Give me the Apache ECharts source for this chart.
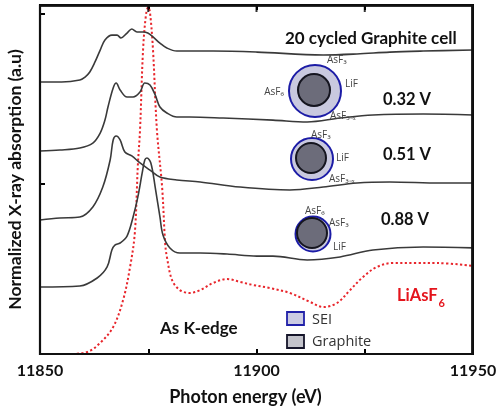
<!DOCTYPE html>
<html>
<head>
<meta charset="utf-8">
<script src="https://cdn.jsdelivr.net/npm/echarts@6/dist/echarts.min.js"></script>
<style>html,body{margin:0;padding:0;background:#fff}#c{width:500px;height:408px}</style>
</head>
<body>
<div id="c"></div>
<script>
// Photon energy (eV) / normalized absorption (a.u., offset stacked)
const curveTop = [[11850,1.600],[11855,1.600],[11859.2,1.612],[11860.4,1.629],[11861.5,1.659],[11862.7,1.718],[11863.9,1.788],[11865.0,1.847],[11866.6,1.876],[11867.8,1.876],[11868.7,1.859],[11870.1,1.888],[11871.2,1.912],[11872.4,1.894],[11873.8,1.894],[11874.9,1.888],[11876.1,1.865],[11877.7,1.829],[11879.3,1.800],[11881.6,1.782],[11885.3,1.782],[11890,1.782],[11900.1,1.776],[11915.4,1.759],[11923.2,1.765],[11930.8,1.776],[11938.5,1.782],[11950,1.788]];
const curve032 = [[11850,1.194],[11854.6,1.200],[11859.2,1.212],[11862.2,1.241],[11863.9,1.300],[11865.0,1.376],[11865.7,1.453],[11866.9,1.565],[11867.6,1.594],[11868.5,1.553],[11870.1,1.512],[11871.5,1.512],[11873.1,1.541],[11874.2,1.594],[11875.4,1.582],[11876.6,1.524],[11877.7,1.453],[11879.3,1.418],[11881.6,1.394],[11884.6,1.394],[11892.3,1.388],[11903.8,1.376],[11911.7,1.365],[11919.3,1.388],[11926.9,1.406],[11938.5,1.412],[11950,1.406]];
const curve051 = [[11850,0.788],[11854.6,0.800],[11859.2,0.806],[11862.2,0.865],[11864.5,0.982],[11866.2,1.141],[11866.9,1.259],[11867.6,1.282],[11868.5,1.259],[11869.6,1.188],[11871.2,1.165],[11873.1,1.124],[11875.4,1.082],[11877.7,1.041],[11881.6,1.024],[11887.0,1.012],[11896.2,0.982],[11907.7,0.965],[11915.4,0.982],[11923.2,1.006],[11930.8,1.012],[11942.4,1.006],[11950,1.006]];
const curve088 = [[11850,0.394],[11859.2,0.400],[11863.2,0.447],[11865.5,0.512],[11866.6,0.612],[11867.3,0.641],[11868.5,0.653],[11870.1,0.694],[11871.5,0.806],[11872.6,0.924],[11873.6,1.065],[11874.2,1.141],[11874.7,1.153],[11875.6,1.124],[11876.6,0.982],[11877.7,0.806],[11878.4,0.700],[11880.0,0.624],[11882.3,0.594],[11887.0,0.594],[11893.2,0.588],[11900.1,0.576],[11903.8,0.576],[11911.7,0.553],[11919.3,0.571],[11926.9,0.612],[11938.5,0.629],[11950,0.624]];
const curveLiAsF6 = [[11850,0.000],[11856.2,0.000],[11860.9,0.012],[11863.9,0.065],[11866.9,0.159],[11869.2,0.318],[11870.8,0.512],[11871.9,0.712],[11872.6,1.112],[11873.1,1.318],[11873.8,1.788],[11874.5,2.000],[11875.0,2.040],[11875.4,2.010],[11876.1,1.788],[11877.0,1.318],[11878.2,0.982],[11878.9,0.653],[11879.3,0.571],[11880.5,0.435],[11882.3,0.376],[11884.6,0.359],[11887.0,0.376],[11890.0,0.418],[11893.2,0.441],[11896.2,0.424],[11899.2,0.406],[11903.1,0.388],[11907.7,0.359],[11912.4,0.306],[11915.4,0.276],[11918.6,0.300],[11921.6,0.376],[11924.6,0.453],[11927.8,0.512],[11931.5,0.535],[11937.1,0.535],[11941.7,0.535],[11950,0.518]];
const xTickLabels = [11850, 11900, 11950];
const topTicks = [11875, 11900, 11925];
const voltageLabels = ['0.32 V', '0.51 V', '0.88 V'];
const X_MIN = 11850, X_MAX = 11950, Y_MIN = 0, Y_MAX = 2.053;

const chart = echarts.init(document.getElementById('c'), null, {renderer: 'canvas'});
const FONT = 'Lato';
const black = '#3a3a3a';
function lineSeries(data, color, dashed) {
  return {
    type: 'line', data: data, showSymbol: false, smooth: 0.35, clip: false,
    lineStyle: dashed ? {color: color, width: 2, type: [2.2, 2.4]} : {color: color, width: 1.6},
    emphasis: {disabled: true}, z: dashed ? 3 : 4
  };
}
function frameSeries(data) {
  return {type: 'line', data: data, showSymbol: false, clip: false, silent: true,
    lineStyle: {color: '#111', width: 2.2, type: 'solid'}, emphasis: {disabled: true}, z: 6};
}
function circle(cx, cy, ro, ri) {
  return [
    {type: 'circle', shape: {cx: cx, cy: cy, r: ro}, style: {fill: '#c9c9df', stroke: '#1c1ca6', lineWidth: 2}, z: 10},
    {type: 'circle', shape: {cx: cx - 1, cy: cy - 1, r: ri}, style: {fill: '#6c6c7a', stroke: '#15151f', lineWidth: 2}, z: 11}
  ];
}
function small(x, y, t, align) {
  return {type: 'text', x: x, y: y, z: 12, style: {text: t, fontFamily: 'Open Sans', fontSize: 10, fill: '#444', align: align || 'left', verticalAlign: 'middle'}};
}
function big(x, y, t, size, align) {
  return {type: 'text', x: x, y: y, z: 12, style: {text: t, fontFamily: FONT, fontWeight: 'bold', fontSize: size, fill: '#111', align: align || 'left', verticalAlign: 'middle'}};
}
const graphics = [].concat(
  [{type: 'rect', shape: {x: 40, y: 5.5, width: 432.5, height: 348.5}, style: {fill: null, stroke: '#111', lineWidth: 2.2}, z: 100, silent: true}],
  [big(285, 39, '20 cycled Graphite cell', 17)],
  circle(315, 91, 26, 16),
  [small(327, 60, 'AsF₃'), small(284, 92, 'AsF₆', 'right'), small(345, 84, 'LiF'), small(330, 116, 'AsF₃₋ₓ')],
  circle(312, 159, 21, 15),
  [small(311, 135, 'AsF₃'), small(336, 158, 'LiF'), small(329, 179, 'AsF₃₋ₓ')],
  circle(313, 234, 17.5, 15),
  [small(305, 211, 'AsF₆'), small(329, 223, 'AsF₃'), small(333, 247, 'LiF')],
  [big(407, 100, voltageLabels[0], 16.5, 'center'), big(407, 155, voltageLabels[1], 16.5, 'center'), big(405, 220, voltageLabels[2], 16.5, 'center')],
  [big(160, 329, 'As K-edge', 17)],
  [{type: 'text', x: 397, y: 296, z: 12, style: {text: '{a|LiAsF}{b|6}', rich: {
      a: {fontFamily: FONT, fontWeight: 'bold', fontSize: 16.5, fill: '#e4141c', verticalAlign: 'middle'},
      b: {fontFamily: FONT, fontWeight: 'bold', fontSize: 11, fill: '#e4141c', padding: [14, 0, 0, 1]}
    }, verticalAlign: 'middle'}}],
  [{type: 'rect', shape: {x: 287, y: 312, width: 17, height: 13}, style: {fill: '#cbcbe3', stroke: '#2020a8', lineWidth: 1.8}, z: 10},
   {type: 'rect', shape: {x: 287, y: 335, width: 17, height: 13}, style: {fill: '#c3c3cb', stroke: '#15152a', lineWidth: 1.8}, z: 10},
   {type: 'text', x: 312, y: 320, z: 12, style: {text: 'SEI', fontFamily: 'Open Sans', fontSize: 14.5, fill: '#333', verticalAlign: 'middle'}},
   {type: 'text', x: 312, y: 342, z: 12, style: {text: 'Graphite', fontFamily: 'Open Sans', fontSize: 14.5, fill: '#333', verticalAlign: 'middle'}}]
);
function axLine() { return {show: true, onZero: false, lineStyle: {color: '#000', width: 2}}; }
function axTick() { return {show: true, inside: true, length: 5, lineStyle: {color: '#000', width: 2}}; }
chart.setOption({
  animation: false,
  grid: {left: 40, right: 27, top: 5, bottom: 54, outerBoundsMode: 'none', show: true, borderColor: '#111', borderWidth: 2},
  xAxis: [
    {type: 'value', position: 'bottom', min: X_MIN, max: X_MAX, interval: 25,
     axisLine: axLine(), axisTick: axTick(), splitLine: {show: false},
     axisLabel: {margin: 9, fontFamily: FONT, fontWeight: 'bold', fontSize: 16, color: '#111',
       formatter: v => xTickLabels.indexOf(v) >= 0 ? String(v) : ''},
     name: 'Photon energy (eV)', nameLocation: 'middle', nameGap: 34,
     nameTextStyle: {fontFamily: FONT, fontWeight: 'bold', fontSize: 18, color: '#111', padding: [0, 22, 0, 0]}},
    {type: 'value', position: 'top', min: X_MIN, max: X_MAX, interval: 25,
     axisLine: axLine(), axisTick: axTick(), axisLabel: {show: false}, splitLine: {show: false}}
  ],
  yAxis: [
    {type: 'value', position: 'left', min: Y_MIN, max: Y_MAX, interval: 1,
     axisLine: axLine(), axisTick: axTick(), axisLabel: {show: false}, splitLine: {show: false},
     name: 'Normalized X-ray absorption (a.u)', nameLocation: 'middle', nameGap: 16,
     nameTextStyle: {fontFamily: FONT, fontWeight: 'bold', fontSize: 17.5, color: '#111'}},
    {type: 'value', position: 'right', min: Y_MIN, max: Y_MAX,
     axisLine: axLine(), axisTick: {show: false}, axisLabel: {show: false}, splitLine: {show: false}}
  ],
  series: [
    lineSeries(curveLiAsF6, '#e8262c', true),
    lineSeries(curveTop, black),
    lineSeries(curve032, black),
    lineSeries(curve051, black),
    lineSeries(curve088, black),
    frameSeries([[X_MIN, Y_MAX - 0.004], [X_MAX, Y_MAX - 0.004]]),
    frameSeries([[X_MAX - 0.15, Y_MIN], [X_MAX - 0.15, Y_MAX]]),
    {type: 'scatter', data: topTicks.map(v => [v, Y_MAX]), symbol: 'rect', symbolSize: [2, 7], symbolOffset: [0, 3.5],
     clip: false, silent: true, itemStyle: {color: '#000'}, emphasis: {disabled: true}, z: 6}
  ],
  graphic: graphics
});
</script>
</body>
</html>
